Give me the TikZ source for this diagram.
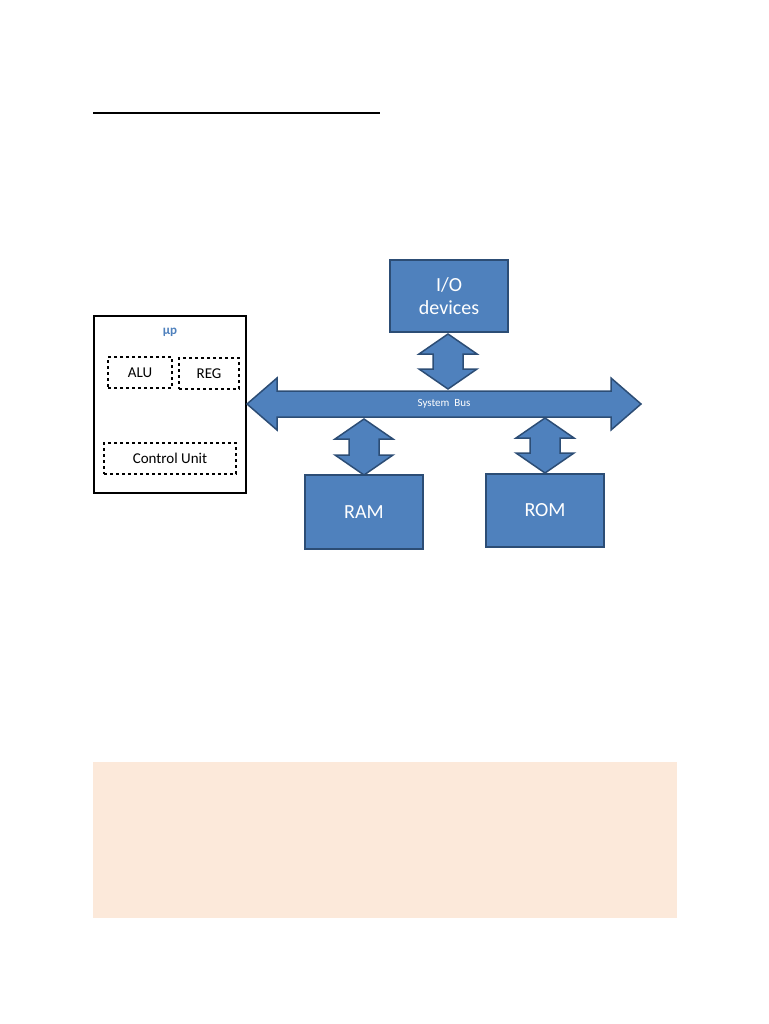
\documentclass[tikz,border=0pt]{standalone}
\usepackage{fontspec}
\setmainfont{Carlito}
\definecolor{boxblue}{HTML}{4F81BD}
\definecolor{boxedge}{HTML}{2C4D75}
\definecolor{peach}{HTML}{FCE9DA}
\tikzset{
  unit/.style={draw=boxedge, line width=1.5pt, fill=boxblue, text=white, font=\fontsize{20}{23}\selectfont, align=center, inner sep=0pt},
  part/.style={draw, dashed, line width=1.5pt, font=\fontsize{15}{17}\selectfont, inner sep=0pt},
  bus/.style={draw=boxedge, line width=1.5pt, fill=boxblue}
}
% vertical double arrow: x, top y, bottom y
\newcommand{\vbus}[3]{%
  \filldraw[bus] (#1,#2) -- (#1+29,#2+20) -- (#1+15,#2+20) -- (#1+15,#3-20) -- (#1+29,#3-20)
    -- (#1,#3) -- (#1-29,#3-20) -- (#1-15,#3-20) -- (#1-15,#2+20) -- (#1-29,#2+20) -- cycle;}
\begin{document}
\begin{tikzpicture}[x=1pt,y=-1pt]
\useasboundingbox (0,0) rectangle (768,1024);

% Trait du titre
\draw[line width=1.2pt] (93,113) -- (380,113);

% Le microprocesseur
\node[draw, line width=1.5pt, minimum width=152pt, minimum height=177pt] (mp) at (170,404.5) {};
\node[text=boxblue, font=\bfseries\fontsize{13}{15}\selectfont] (mplabel) at (170,332) {µp};
\node[part, minimum width=64pt, minimum height=31pt] (alu) at (140,372.5) {ALU};
\node[part, minimum width=60pt, minimum height=31pt] (reg) at (209,373.5) {REG};
\node[part, minimum width=132pt, minimum height=31pt] (cu) at (170,458.5) {Control Unit};

% Les blocs
\node[unit, minimum width=118pt, minimum height=72pt] (io) at (449,296) {I/O\\devices};
\node[unit, minimum width=118pt, minimum height=74pt] (ram) at (364,512) {RAM};
\node[unit, minimum width=118pt, minimum height=73pt] (rom) at (545,510.5) {ROM};

% Le bus
\filldraw[bus] (247,404) -- (277,378) -- (277,391) -- (611,391) -- (611,378) -- (641,404)
  -- (611,430) -- (611,417) -- (277,417) -- (277,430) -- cycle;
\node[text=white, font=\fontsize{11}{13}\selectfont] (buslabel) at (444,404) {System\ \ Bus};

% Les liaisons
\vbus{448}{334}{389}
\vbus{364}{419}{475}
\vbus{545}{418}{473}

% Zone colorée
\fill[peach] (93,762) rectangle (677,918);
\end{tikzpicture}
\end{document}
